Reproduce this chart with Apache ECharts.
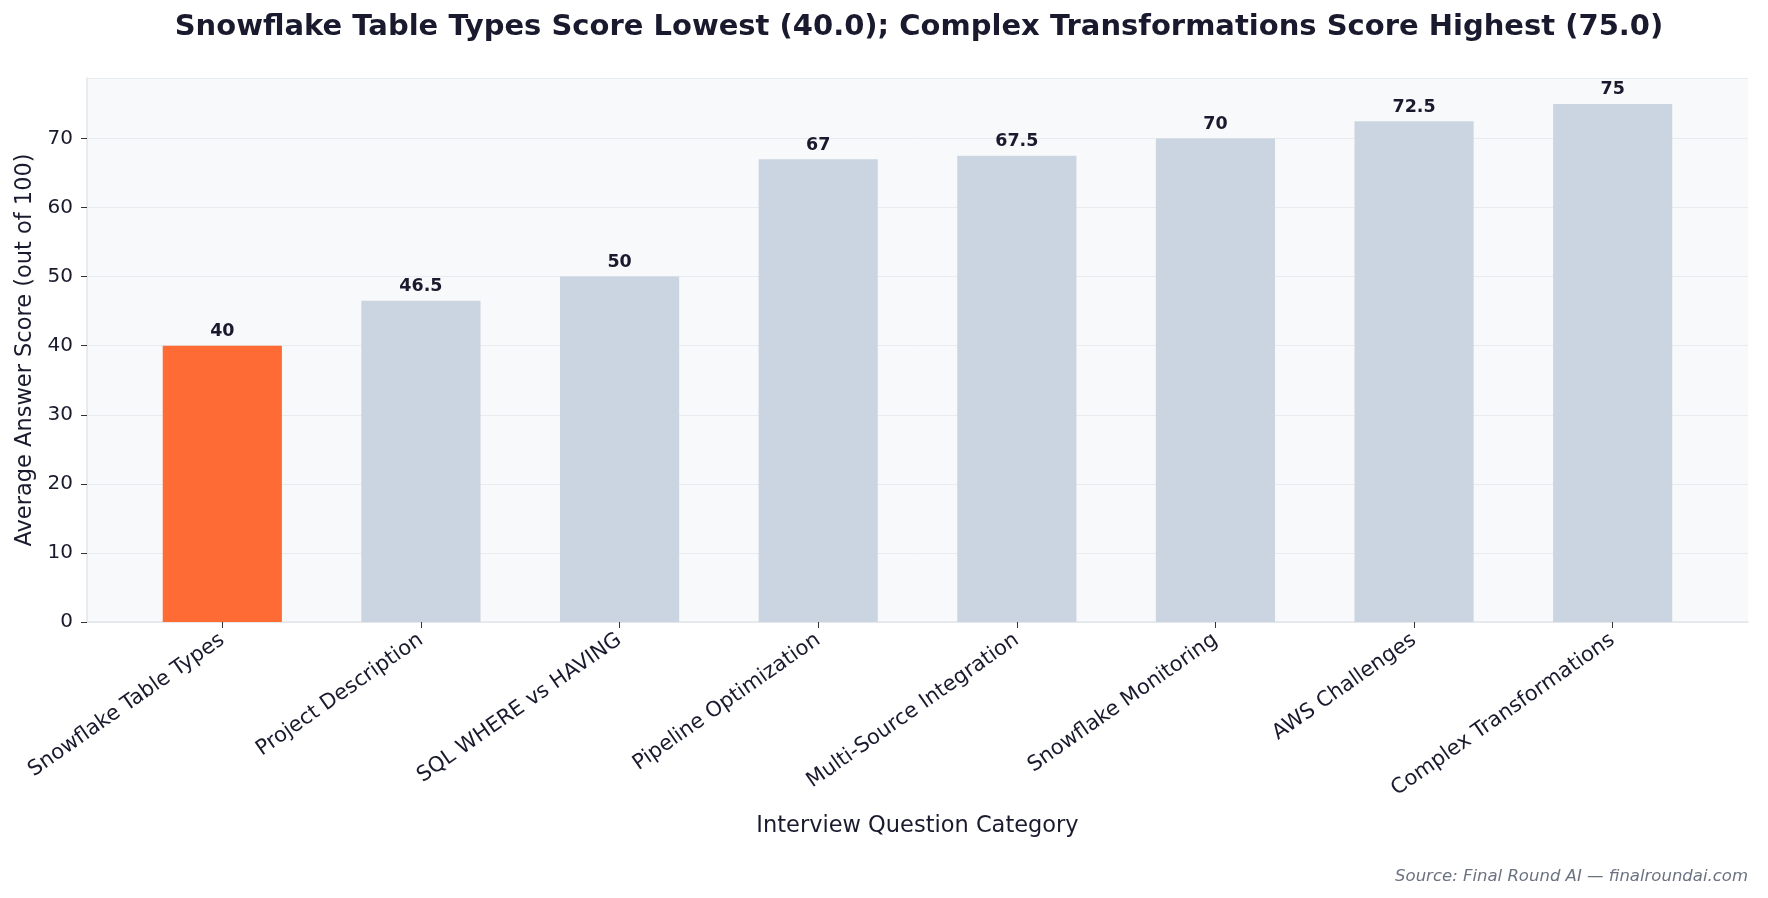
<!DOCTYPE html>
<html>
<head>
<meta charset="utf-8">
<script src="https://cdn.jsdelivr.net/npm/echarts@6/dist/echarts.min.js"></script>
<style>
    html, body { margin: 0; padding: 0; background: #ffffff; }
    #chart { width: 1768px; height: 898px; }
</style>
</head>
<body>
<div id="chart"></div>
<script>
// categories and scores
var categories = ['Snowflake Table Types', 'Project Description', 'SQL WHERE vs HAVING', 'Pipeline Optimization',
    'Multi-Source Integration', 'Snowflake Monitoring', 'AWS Challenges', 'Complex Transformations'];
var scores = [40, 46.5, 50, 67, 67.5, 70, 72.5, 75];
var yTicks = [0, 10, 20, 30, 40, 50, 60, 70];

var FONT = '"DejaVu Sans", sans-serif';
var lowColor = '#FF6B35', baseColor = '#CBD5E1';

var chart = echarts.init(document.getElementById('chart'));

var yMax = 78.75;
// 画图
chart.setOption({
    backgroundColor: '#ffffff',
    textStyle: { fontFamily: FONT },
    title: [{
        text: 'Snowflake Table Types Score Lowest (40.0); Complex Transformations Score Highest (75.0)',
        left: 914, top: 8, textAlign: 'center',
        textStyle: { fontFamily: FONT, fontSize: 29, fontWeight: 'bold', color: '#1a1a2e' }
    }, {
        text: 'Source: Final Round AI — finalroundai.com',
        right: 15, top: 863,
        textStyle: { fontFamily: FONT, fontSize: 16.5, fontStyle: 'italic', fontWeight: 'normal', color: '#6b7280' }
    }],
    grid: [
        // wide grid: background, spines, y axis
        { left: 87, right: 20, top: 78, bottom: 276, show: true, backgroundColor: '#F8F9FB', borderWidth: 0 },
        // narrow grid: bars (matplotlib x margins)
        { left: 123, right: 56, top: 78, bottom: 276 }
    ],
    xAxis: [{
        gridIndex: 0, type: 'value', min: 0, max: 1,
        axisLine: { show: true, lineStyle: { color: '#E2E6EA', width: 1.5 } },
        axisTick: { show: false }, axisLabel: { show: false }, splitLine: { show: false },
        name: 'Interview Question Category', nameLocation: 'middle', nameGap: 193,
        nameTextStyle: { fontFamily: FONT, fontSize: 22.5, color: '#1a1a2e' }
    }, {
        gridIndex: 1, type: 'category', data: categories,
        axisLine: { show: false },
        axisTick: { show: true, alignWithLabel: true, length: 6, lineStyle: { color: '#333', width: 1 } },
        axisLabel: { rotate: 35, fontFamily: FONT, fontSize: 21, color: '#1a1a2e', margin: 16, interval: 0 }
    }],
    yAxis: [{
        gridIndex: 0, type: 'value', min: 0, max: yMax, interval: 10,
        axisLine: { show: true, lineStyle: { color: '#E2E6EA', width: 1.5 } },
        axisTick: { show: true, length: 6, lineStyle: { color: '#333' } },
        axisLabel: {
            fontFamily: FONT, fontSize: 20, color: '#1a1a2e', margin: 14, showMaxLabel: false,
            formatter: function (v) { return yTicks.indexOf(v) >= 0 ? String(v) : ''; }
        },
        splitLine: { show: true, lineStyle: { color: '#E8EBEF', width: 1 } },
        name: 'Average Answer Score (out of 100)', nameLocation: 'middle', nameGap: 50,
        nameTextStyle: { fontFamily: FONT, fontSize: 22.5, color: '#1a1a2e' }
    }, {
        gridIndex: 1, type: 'value', min: 0, max: yMax, interval: 10, show: false,
        splitLine: { show: false }
    }],
    series: [{
        type: 'bar', xAxisIndex: 1, yAxisIndex: 1,
        barWidth: '60%',
        data: scores.map(function (v, i) {
            return { value: v, itemStyle: { color: v === Math.min.apply(null, scores) ? lowColor : baseColor } };
        }),
        label: {
            show: true, position: 'top', distance: 5,
            fontFamily: FONT, fontSize: 17.5, fontWeight: 'bold', color: '#1a1a2e'
        }
    }]
});
</script>
</body>
</html>
